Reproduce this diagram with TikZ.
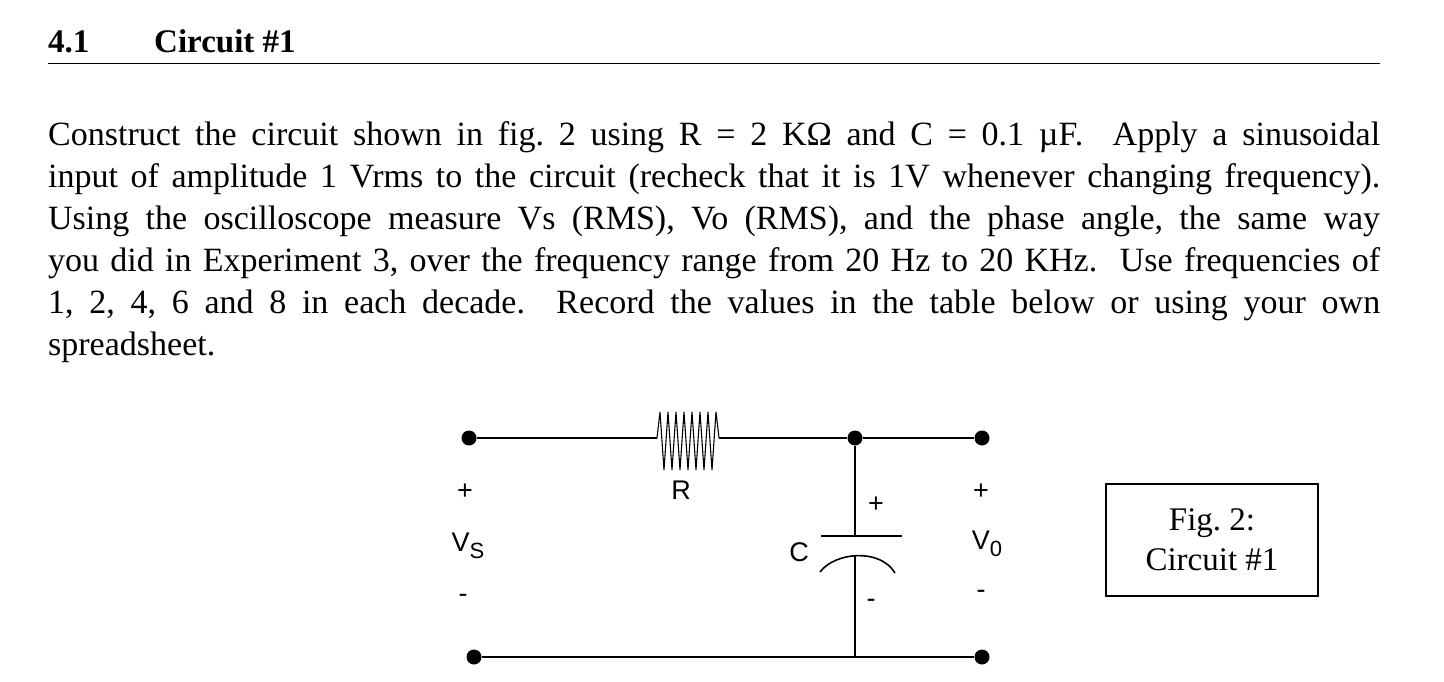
\documentclass[tikz,border=0pt]{standalone}
\usepackage{fontspec}
\setmainfont{Liberation Serif}
\newfontfamily\arial{Liberation Sans}
\frenchspacing
\begin{document}
\begin{tikzpicture}[x=1pt,y=-1pt,
  wire/.style={line width=1.6pt},
  dotc/.style={circle,fill,inner sep=0pt,minimum size=15pt},
  lbl/.style={font=\arial\fontsize{27}{30}\selectfont,inner sep=0pt}]
\useasboundingbox (0,0) rectangle (1444,682);
\node[anchor=base west,inner sep=0pt,font=\bfseries\fontsize{33}{38}\selectfont] (num) at (48,53) {4.1};
\node[anchor=base west,inner sep=0pt,font=\bfseries\fontsize{33}{38}\selectfont] (ttl) at (154,53) {Circuit \#1};
\coordinate (r1) at (48,64); \coordinate (r2) at (1380,64);
\draw[line width=1pt] (r1) -- (r2);
\node[anchor=base west,inner sep=0pt,text width=1332pt,align=justify,font=\fontsize{34}{42}\selectfont] (para) at (48,146) {Construct the circuit shown in fig. 2 using R = 2 KΩ and C = 0.1 µF.\ \ Apply a sinusoidal\linebreak input of amplitude 1 Vrms to the circuit (recheck that it is 1V whenever changing frequency).\linebreak Using the oscilloscope measure Vs (RMS), Vo (RMS), and the phase angle, the same way\linebreak you did in Experiment 3, over the frequency range from 20 Hz to 20 KHz.\ \ Use frequencies of\linebreak 1, 2, 4, 6 and 8 in each decade.\ \ Record the values in the table below or using your own\linebreak spreadsheet.};
% circuit
\node[dotc] (a) at (469,438) {};
\node[dotc] (b) at (474,657) {};
\node[dotc] (n) at (855,438) {};
\node[dotc] (c) at (982,438) {};
\node[dotc] (d) at (982,657) {};
\coordinate (ra) at (657,438); \coordinate (rb) at (719,438);
\coordinate (ct) at (855,536); \coordinate (cb) at (855,555);
\coordinate (g) at (855,657);
\draw[wire] (a) -- (ra);
\draw[line width=1.1pt] (ra) -- (660,412) -- (664,470) -- (668,412) -- (672,470) -- (676,412) -- (680,470) -- (684,412) -- (688,470) -- (692,412) -- (696,470) -- (700,412) -- (704,470) -- (708,412) -- (712,470) -- (716,412) -- (rb);
\draw[wire] (rb) -- (n) -- (c);
\draw[wire] (n) -- (ct);
\draw[wire] (821,536) -- (902,536);
\draw[wire] (820,572) .. controls (835,552) and (880,548) .. (895,573);
\draw[wire] (cb) -- (g);
\draw[wire] (b) -- (d);
\node[lbl] (p1) at (465,492) {+};
\node[lbl] (vs) at (468,546) {V\raisebox{-7pt}{\fontsize{22}{24}\selectfont S}};
\node[lbl] (m1) at (463,598) {-};
\node[lbl] (rl) at (681,490) {R};
\node[lbl] (cl) at (799,552) {C};
\node[lbl] (p2) at (876,505) {+};
\node[lbl] (m2) at (871,603) {-};
\node[lbl] (p3) at (981,492) {+};
\node[lbl] (vo) at (987,544) {V\raisebox{-7pt}{\fontsize{22}{24}\selectfont 0}};
\node[lbl] (m3) at (981,594) {-};
\node[draw,line width=1.4pt,minimum width=212pt,minimum height=112pt,align=center,font=\fontsize{33}{40}\selectfont] (box) at (1212,540) {Fig. 2:\\Circuit \#1};
\end{tikzpicture}
\end{document}
